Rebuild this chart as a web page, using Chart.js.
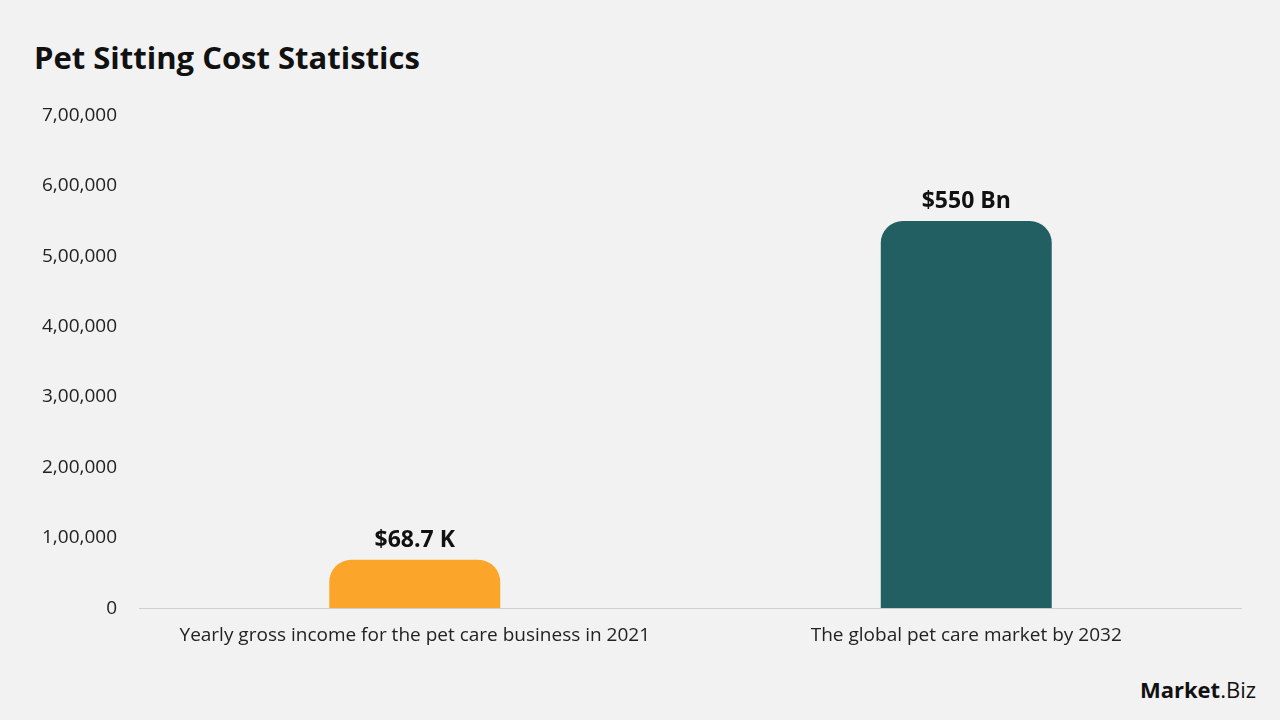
<!DOCTYPE html>
<html>
<head>
<meta charset="utf-8">
<script src="https://cdn.jsdelivr.net/npm/chart.js@4/dist/chart.umd.min.js"></script>
<style>
  body{margin:0;background:#f2f2f2;font-family:"Open Sans",sans-serif;}
  #wrap{position:relative;width:1280px;height:720px;}
  h1{position:absolute;left:34px;top:36px;margin:0;font-size:31px;font-weight:700;color:#111;}
  #box{position:absolute;left:28px;top:90px;width:1214px;height:565px;}
  #logo{position:absolute;right:24px;bottom:16px;font-size:22px;font-weight:700;color:#111;}
  #logo span{font-weight:400;}
</style>
</head>
<body>
<div id="wrap">
  <h1>Pet Sitting Cost Statistics</h1>
  <div id="box"><canvas id="chart"></canvas></div>
  <div id="logo">Market<span>.Biz</span></div>
</div>
<script>
// ===== DATA =====
const categories = ["Yearly gross income for the pet care business in 2021", "The global pet care market by 2032"];
const values = [68700, 550000];
const valueLabels = ["$68.7 K", "$550 Bn"];
const barColors = ["#fba62a", "#215f63"];

Chart.defaults.font.family = "'Open Sans', sans-serif";

// indian style grouping: 7,00,000
function indianFormat(n){
    let s = String(Math.round(n));
    if(s.length <= 3) return s;
    let last = s.slice(-3);
    let rest = s.slice(0, -3).replace(/\B(?=(\d{2})+(?!\d))/g, ",");
    return rest + "," + last;
}

// ===== LABELS ABOVE BARS =====
const topLabels = {
    id: "topLabels",
    afterDatasetsDraw(chart){
        const ctx = chart.ctx;
        chart.getDatasetMeta(0).data.forEach((bar, i) => {
            ctx.save();
            ctx.font = "bold 23px 'Open Sans'";
            ctx.fillStyle = "#111";
            ctx.textAlign = "center";
            ctx.textBaseline = "bottom";
            ctx.fillText(valueLabels[i], bar.x, bar.y - 8);
            ctx.restore();
        });
    }
};

new Chart(document.getElementById("chart"), {
    type: "bar",
    data: {
        labels: categories,
        datasets: [{
            data: values,
            backgroundColor: barColors,
            borderRadius: {topLeft: 22, topRight: 22},
            borderSkipped: false,
            barPercentage: 0.31,
            categoryPercentage: 1
        }]
    },
    options: {
        responsive: true,
        maintainAspectRatio: false,
        animation: false,
        plugins: {legend: {display: false}, tooltip: {enabled: false}},
        layout: {padding: {top: 10}},
        scales: {
            y: {
                min: 0, max: 700000,
                ticks: {stepSize: 100000, callback: v => indianFormat(v), color: "#222", font: {size: 19}, padding: 14},
                grid: {display: false},
                border: {display: false}
            },
            x: {
                ticks: {color: "#222", font: {size: 19}, padding: 8},
                grid: {display: false},
                border: {color: "#d0d0d0"}
            }
        }
    },
    plugins: [topLabels]
});
</script>
</body>
</html>
